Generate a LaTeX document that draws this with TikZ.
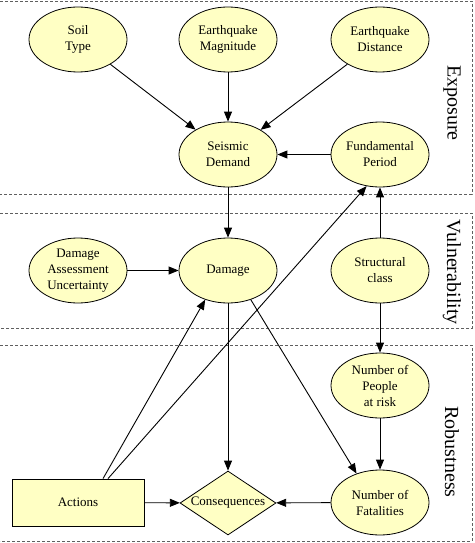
\documentclass[tikz,border=0pt]{standalone}
\usepackage{fontspec}
\setmainfont{Liberation Serif}
\usetikzlibrary{shapes.geometric,arrows.meta}
\definecolor{nodefill}{RGB}{255,255,196}
\definecolor{dashgray}{RGB}{95,95,95}
\begin{document}
\begin{tikzpicture}[x=1pt,y=-1pt,
  ell/.style={ellipse,draw,fill=nodefill,line width=0.8pt,minimum width=98pt,minimum height=65pt,inner sep=0pt,align=center,font=\fontsize{13}{16}\selectfont},
  dia/.style={diamond,draw,fill=nodefill,line width=0.8pt,minimum width=96pt,minimum height=64pt,aspect=1.5,inner sep=0pt,font=\fontsize{13}{16}\selectfont},
  rect/.style={rectangle,draw,fill=nodefill,line width=0.8pt,minimum width=132pt,minimum height=47pt,font=\fontsize{13}{16}\selectfont},
  arr/.style={-{Triangle[length=10pt,width=8pt]},line width=0.9pt},
  frame/.style={draw=dashgray,line width=0.8pt,dash pattern=on 3pt off 2pt},
  lab/.style={rotate=-90,font=\fontsize{20}{24}\selectfont}]
\useasboundingbox (0,0) rectangle (474,543);
% frames
\draw[frame] (0,1) -- (472,1) -- (472,194) -- (0,194);
\draw[frame] (0,213) -- (472,213) -- (472,328) -- (0,328);
\draw[frame] (0,345) -- (472,345) -- (472,541) -- (0,541);
\node[lab] (lexp) at (452,103) {Exposure};
\node[lab] (lvul) at (452,272) {Vulnerability};
\node[lab] (lrob) at (452,452) {Robustness};
% nodes
\node[ell] (soil) at (78,39.5) {Soil\\Type};
\node[ell] (mag) at (228,39.5) {Earthquake\\Magnitude};
\node[ell] (dist) at (380,39.5) {Earthquake\\Distance};
\node[ell] (seis) at (228,154.5) {Seismic\\Demand};
\node[ell] (fund) at (380,154.5) {Fundamental\\Period};
\node[ell] (dau) at (78,270.5) {Damage\\Assessment\\Uncertainty};
\node[ell] (dam) at (228,270.5) {Damage};
\node[ell] (struct) at (380,270.5) {Structural\\class};
\node[ell] (people) at (380,385.5) {Number of\\People\\at risk};
\node[ell] (fat) at (380,502.5) {Number of\\Fatalities};
\node[rect] (act) at (78,502.5) {Actions};
\node[dia] (cons) at (228,503) {Consequences};
% edges
\draw[arr] (soil) -- (seis);
\draw[arr] (mag) -- (seis);
\draw[arr] (dist) -- (seis);
\draw[arr] (fund) -- (seis);
\draw[arr] (seis) -- (dam);
\draw[arr] (dau) -- (dam);
\draw[arr] (struct) -- (fund);
\draw[arr] (struct) -- (people);
\draw[arr] (people) -- (fat);
\draw[arr] (fat) -- (cons);
\draw[arr] (act) -- (cons);
\draw[arr] (dam) -- (cons);
\draw[arr] (dam.-52) -- (fat.129);
\draw[arr] ([xshift=25pt]act.north) -- (dam.-128);
\draw[arr] ([xshift=30pt]act.north) -- (fund.-113);
\end{tikzpicture}
\end{document}
